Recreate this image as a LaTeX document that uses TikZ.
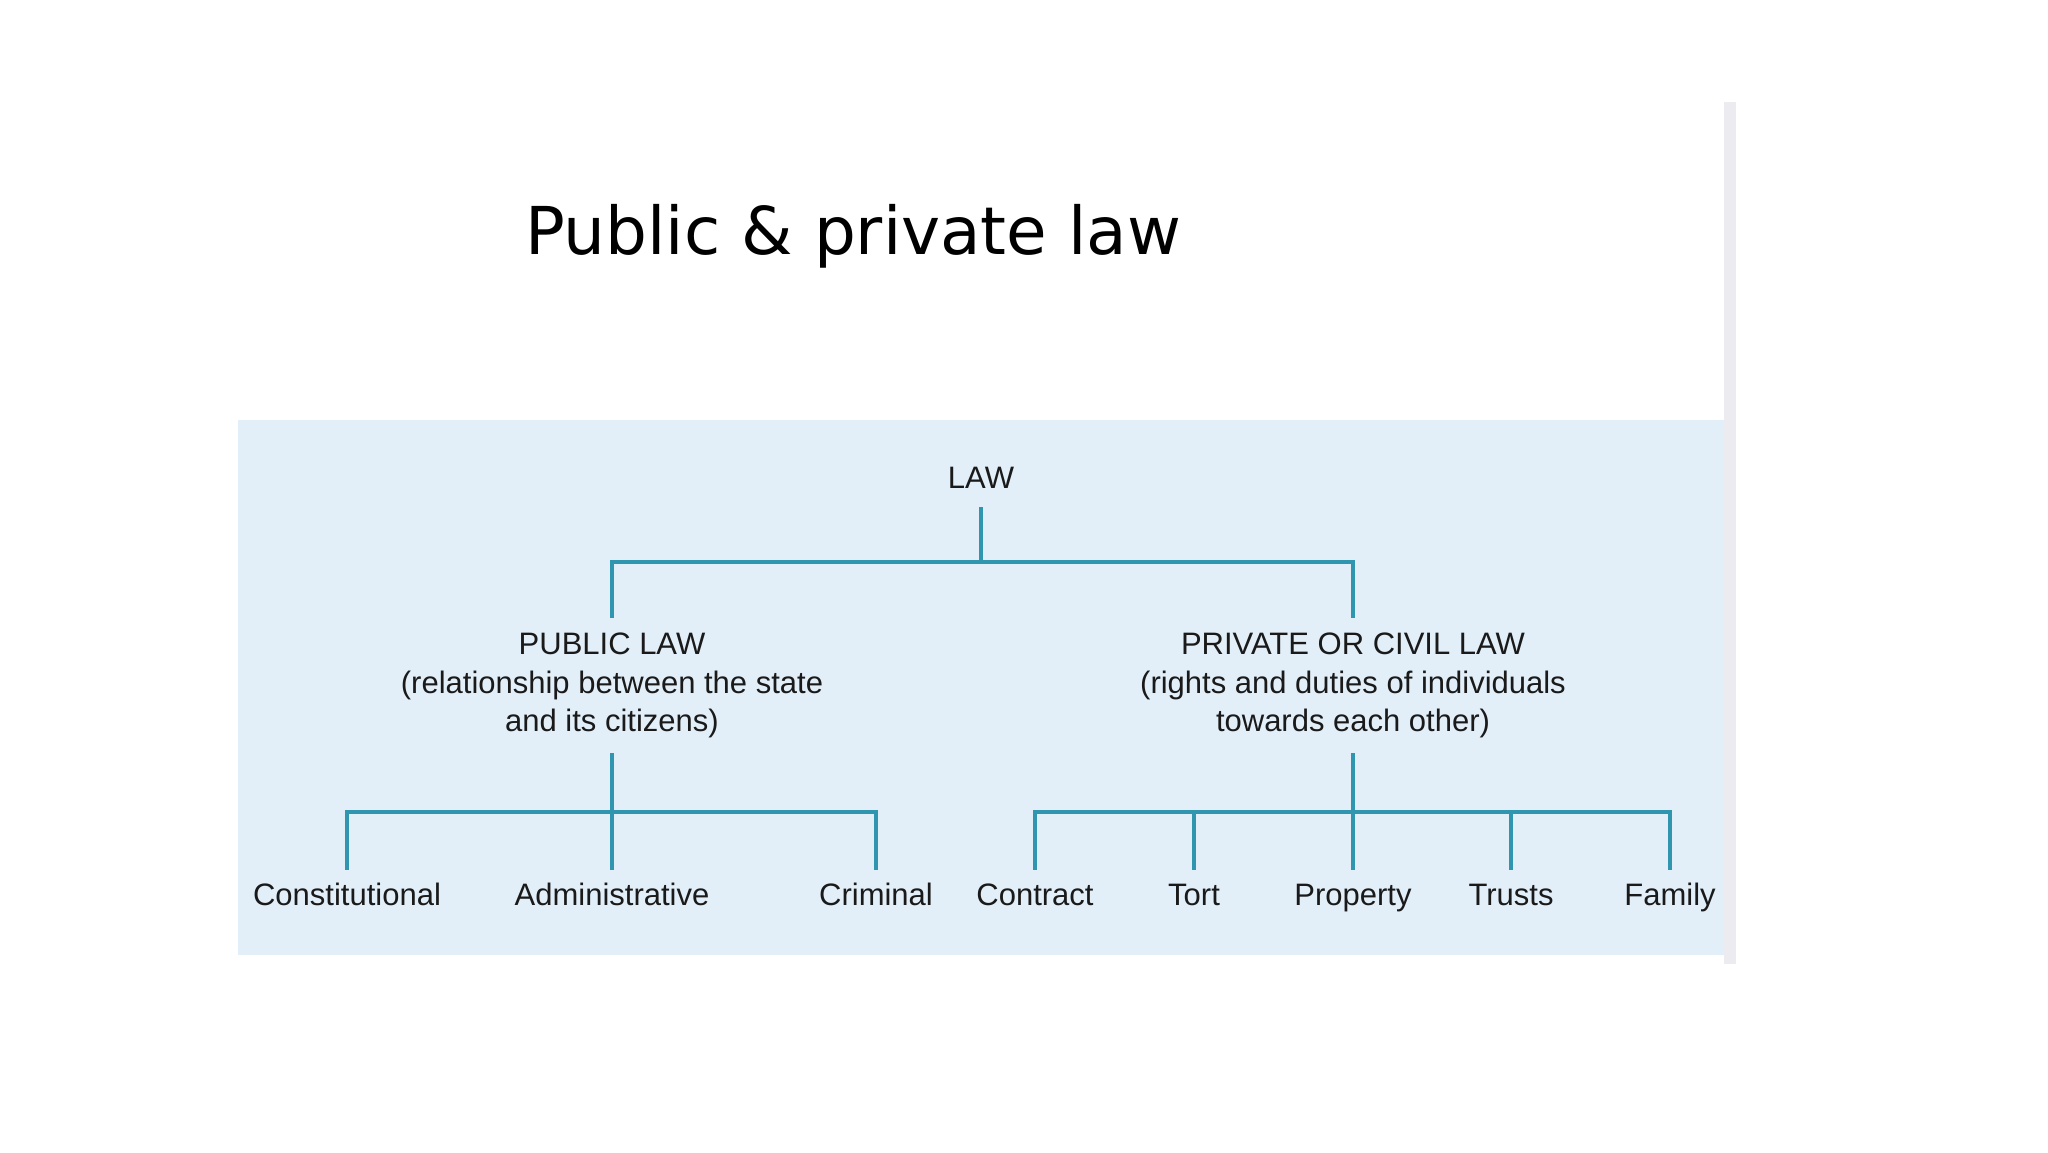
\documentclass[tikz,border=0pt]{standalone}
\usepackage{fontspec}
\setmainfont{Liberation Sans}
\newfontfamily\titlefont{DejaVu Sans}
\definecolor{panel}{HTML}{E2EFF9}
\definecolor{teal}{HTML}{3096AF}
\definecolor{ink}{HTML}{1A1A1A}
\definecolor{strip}{HTML}{ECECF0}
\begin{document}
\begin{tikzpicture}[x=1pt,y=-1pt,
  branch/.style={draw=teal,line width=4.5pt,line join=miter},
  lawlabel/.style={font=\fontsize{31}{38.5}\selectfont,text=ink,inner xsep=0pt},
  headbox/.style={lawlabel,align=center,anchor=north,inner ysep=15pt},
  leaf/.style={lawlabel,anchor=base,text height=23pt,text depth=7pt,inner ysep=12pt}]
\useasboundingbox (0,0) rectangle (2048,1152);
\fill[white] (0,0) rectangle (2048,1152);
% panel and side strip
\fill[panel] (238,420) rectangle (1724,955);
\fill[strip] (1724,102) rectangle (1736,964);
% title
\node[anchor=base west,inner sep=0pt,text=black,font=\titlefont\fontsize{66}{80}\selectfont] (title) at (525,254) {Public \& private law};
% nodes
\node[lawlabel,anchor=base,inner ysep=19pt,text depth=0pt] (law) at (981,488) {LAW};
\node[headbox] (pub) at (612,618) {PUBLIC LAW\\(relationship between the state\\and its citizens)};
\node[headbox] (priv) at (1353,618) {PRIVATE OR CIVIL LAW\\(rights and duties of individuals\\towards each other)};
\node[leaf] (con) at (347,905) {Constitutional};
\node[leaf] (adm) at (612,905) {Administrative};
\node[leaf] (cri) at (876,905) {Criminal};
\node[leaf] (ctr) at (1035,905) {Contract};
\node[leaf] (tor) at (1194,905) {Tort};
\node[leaf] (pro) at (1353,905) {Property};
\node[leaf] (tru) at (1511,905) {Trusts};
\node[leaf] (fam) at (1670,905) {Family};
% junctions
\coordinate (lawbar) at (981,562);
\coordinate (pubbar) at (612,812);
\coordinate (privbar) at (1353,812);
% connectors
\draw[branch] (law.south) -- (lawbar);
\draw[branch] (pub.north) |- (lawbar) -| (priv.north);
\draw[branch] (pub.south) -- (adm.north);
\draw[branch] (con.north) |- (pubbar) -| (cri.north);
\draw[branch] (priv.south) -- (pro.north);
\draw[branch] (ctr.north) |- (privbar) -| (fam.north);
\draw[branch] (tor.north) -- (tor.north |- privbar);
\draw[branch] (tru.north) -- (tru.north |- privbar);
\end{tikzpicture}
\end{document}
